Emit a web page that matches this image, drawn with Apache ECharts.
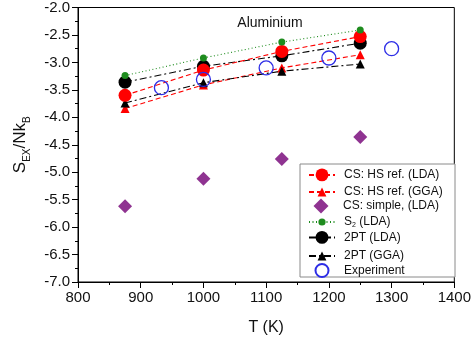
<!DOCTYPE html>
<html>
<head>
<meta charset="utf-8">
<script src="https://cdn.jsdelivr.net/npm/echarts@6/dist/echarts.min.js"></script>
<style>
  html, body { margin: 0; padding: 0; background: #fff; }
  #chart { width: 474px; height: 341px; }
</style>
</head>
<body>
<div id="chart"></div>
<script>
// Excess entropy of liquid aluminium versus temperature
const temps = [875, 1000, 1125, 1250];
const csHsLda = [-3.60, -3.14, -2.80, -2.53];
const csHsGga = [-3.84, -3.41, -3.10, -2.86];
const csSimpleLda = [-5.62, -5.12, -4.76, -4.36];
const s2Lda = [-3.24, -2.92, -2.63, -2.41];
const twoPtLda = [-3.36, -3.07, -2.88, -2.65];
const twoPtGga = [-3.74, -3.37, -3.16, -3.03];
const expTemps = [933, 1000, 1100, 1200, 1300];
const expValues = [-3.46, -3.31, -3.10, -2.92, -2.75];

const xTicks = { min: 800, max: 1400, step: 100 };
const yTicks = { min: -7.0, max: -2.0, step: 0.5 };

const pairs = (xs, ys) => xs.map((x, i) => [x, ys[i]]);

const FONT = 'Liberation Sans, Arial, sans-serif';
const RED = '#ff0000', GREEN = '#1e8c1e', PURPLE = '#730075', BLUE = '#2d2de6', BLACK = '#000000';

const seriesDefs = [
  { name: 'CS: HS ref. (GGA)', type: 'line', data: pairs(temps, csHsGga), color: RED,
    symbol: 'triangle', size: 9, dash: [5, 3], legendH: 11, row: 1 },
  { name: '2PT (GGA)', type: 'line', data: pairs(temps, twoPtGga), color: BLACK,
    symbol: 'triangle', size: 9, dash: [7, 3, 2, 3], legendH: 11, row: 5 },
  { name: '2PT (LDA)', type: 'line', data: pairs(temps, twoPtLda), color: BLACK,
    symbol: 'circle', size: 13, dash: [7, 3, 2, 3], legendH: 16, row: 4 },
  { name: 'CS: HS ref. (LDA)', type: 'line', data: pairs(temps, csHsLda), color: RED,
    symbol: 'circle', size: 13, dash: [5, 3], legendH: 16, row: 0 },
  { name: 'S2 (LDA)', type: 'line', data: pairs(temps, s2Lda), color: GREEN,
    symbol: 'circle', size: 7, dash: [1, 2.5], legendH: 9, row: 3 },
  { name: 'CS: simple, (LDA)', type: 'scatter', data: pairs(temps, csSimpleLda), color: PURPLE,
    symbol: 'diamond', size: 14, legendH: 15, row: 2 },
  { name: 'Experiment', type: 'scatter', data: pairs(expTemps, expValues), color: BLUE,
    symbol: 'circle', size: 14, hollow: true, legendH: 13, row: 6 }
];

const legendRows = [176.5, 191.5, 206, 220.5, 239, 255.5, 269.5];
const legendIconCenter = 321;
const legendTextStart = 343;

const series = seriesDefs.map(d => {
  const s = {
    name: d.name,
    type: d.type,
    data: d.data,
    symbol: d.symbol,
    symbolSize: d.size,
    z: 3,
    itemStyle: d.hollow
      ? { color: 'rgba(255,255,255,0)', borderColor: d.color, borderWidth: 1.3, opacity: 1 }
      : { color: d.color, borderWidth: 0 }
  };
  if (d.type === 'line') {
    s.showSymbol = true;
    s.lineStyle = { color: d.color, width: 1.1, type: d.dash };
  }
  return s;
});

const legends = seriesDefs.map(d => {
  const w = d.type === 'scatter' ? d.legendH : 26;
  const left = legendIconCenter - w / 2;
  return {
    data: [{ name: d.name, icon: d.type === 'scatter' ? d.symbol : undefined }],
    left: left,
    top: legendRows[d.row] - d.legendH / 2,
    orient: 'vertical',
    padding: 0,
    itemWidth: w,
    itemHeight: d.legendH,
    selectedMode: false,
    z: 6,
    formatter: n => n === 'S2 (LDA)' ? 'S{sub|2} (LDA)' : n,
    textStyle: {
      fontFamily: FONT, fontSize: 12, color: '#111',
      padding: [0, 0, 0, legendTextStart - (left + w + 5)],
      rich: { sub: { fontSize: 7, verticalAlign: 'bottom', lineHeight: 14, fontFamily: FONT, color: '#111' } }
    }
  };
});

const chart = echarts.init(document.getElementById('chart'), null, { renderer: 'canvas' });
chart.setOption({
  animation: false,
  backgroundColor: '#ffffff',
  grid: { left: 78, right: 18, top: 7, bottom: 57, show: true, borderColor: '#000', borderWidth: 1, containLabel: false },
  title: {
    text: 'Aluminium', left: 265, top: 11, textAlign: 'center',
    textStyle: { fontFamily: FONT, fontSize: 14, fontWeight: 'normal', color: '#111' }
  },
  graphic: [{
    type: 'rect', shape: { x: 300, y: 164, width: 155, height: 113 },
    style: { fill: '#ffffff', stroke: '#8a8a8a', lineWidth: 1 }, z: 5
  }],
  xAxis: {
    type: 'value', min: xTicks.min, max: xTicks.max, interval: xTicks.step,
    name: 'T (K)', nameLocation: 'middle', nameGap: 38,
    nameTextStyle: { fontFamily: FONT, fontSize: 16, color: '#111' },
    axisLine: { lineStyle: { color: '#000', width: 1 } },
    axisTick: { inside: false, length: 6, lineStyle: { color: '#000' } },
    minorTick: { show: true, splitNumber: 2, length: 3, lineStyle: { color: '#000' } },
    splitLine: { show: false },
    axisLabel: { fontFamily: FONT, fontSize: 15, color: '#111', margin: 8, formatter: v => String(v) }
  },
  yAxis: {
    type: 'value', min: yTicks.min, max: yTicks.max, interval: yTicks.step,
    name: 'S{sub|EX}/Nk{sub|B}', nameLocation: 'middle', nameGap: 46, nameRotate: 90,
    nameTextStyle: {
      fontFamily: FONT, fontSize: 17, color: '#111', lineHeight: 24,
      rich: { sub: { fontFamily: FONT, fontSize: 10, color: '#111', verticalAlign: 'bottom', lineHeight: 24 } }
    },
    axisLine: { show: true, lineStyle: { color: '#000', width: 1 } },
    axisTick: { show: true, inside: false, length: 6, lineStyle: { color: '#000' } },
    minorTick: { show: true, splitNumber: 2, length: 3, lineStyle: { color: '#000' } },
    splitLine: { show: false },
    axisLabel: { fontFamily: FONT, fontSize: 15, color: '#111', margin: 8, formatter: v => v.toFixed(1) }
  },
  legend: legends,
  series: series
});
</script>
</body>
</html>
